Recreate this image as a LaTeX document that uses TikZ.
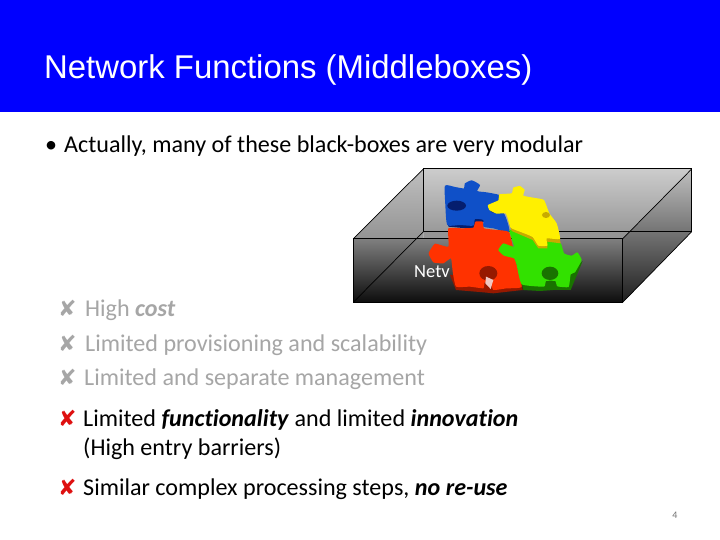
\documentclass[tikz,border=0pt]{standalone}
\usepackage{fontspec}
\setmainfont[Ligatures=NoCommon]{Carlito}
\newfontfamily\titlefont{Liberation Sans}
\newfontfamily\symfont{DejaVu Sans}
\definecolor{bandblue}{RGB}{0,0,255}
\definecolor{fade}{RGB}{166,166,166}
\definecolor{xred}{RGB}{222,16,16}
\definecolor{pblue}{RGB}{15,80,200}
\definecolor{pblued}{RGB}{5,30,110}
\definecolor{pred}{RGB}{255,50,0}
\definecolor{predd}{RGB}{150,25,0}
\definecolor{ppink}{RGB}{240,200,195}
\definecolor{pgreen}{RGB}{50,225,0}
\definecolor{pgreend}{RGB}{25,115,0}
\definecolor{pyellow}{RGB}{255,240,0}
\definecolor{pyellowd}{RGB}{200,170,0}
\tikzset{
 body/.style={anchor=base west,inner sep=0pt,font=\fontsize{24.1}{28}\selectfont},
 xmark/.style={anchor=base west,inner sep=0pt,font=\symfont\fontsize{22}{26}\selectfont},
 edge/.style={draw=black,line width=1pt},
 piece/.style={line join=round},
}
\begin{document}
\begin{tikzpicture}[x=1pt,y=-1pt]
\useasboundingbox (0,0) rectangle (720,540);
\fill[white] (0,0) rectangle (720,540);
\fill[bandblue] (0,0) rectangle (720,112);
\node[anchor=base west,inner sep=0pt,text=white,font=\titlefont\fontsize{32.9}{38}\selectfont] (title) at (44,79) {Network Functions (Middleboxes)};
\node[body] (bul) at (45,153) {•};
\node[body] (t0) at (64,153) {Actually, many of these black-boxes are very modular};
% box
\coordinate (bt1) at (423.3,169); \coordinate (bt2) at (691.7,169);
\coordinate (bb1) at (423.3,231.7); \coordinate (bb2) at (691.7,231.7);
\coordinate (ft1) at (353.3,238.7); \coordinate (ft2) at (622.7,238.7);
\coordinate (fb1) at (353.3,302.3); \coordinate (fb2) at (622.7,302.3);
\shade[top color=black!20,bottom color=black!40] (bt1) -- (bt2) -- (bb2) -- (bb1) -- cycle;
\shade[top color=black!25,bottom color=black!42] (bt1) -- (ft1) -- (423.3,238.7) -- cycle;
\fill[black!42] (bb1) -- (bb2) -- (ft2) -- (423.3,238.7) -- cycle;
\shade[top color=black!25,bottom color=black!88] (bt2) -- (bb2) -- (fb2) -- (ft2) -- cycle;
\shade[top color=black!50,bottom color=black!95] (ft1) rectangle (fb2);
\draw[black,line width=.7pt] (bb1) -- (fb1) (bb2) -- (fb2) (bt1) -- (ft1) (bt2) -- (ft2);
\draw[edge] (bt1) -- (bt2) -- (bb2) -- (bb1) -- cycle;
\draw[edge] (ft1) rectangle (fb2);
\node[anchor=base west,inner sep=0pt,text=white,font=\fontsize{18.5}{22}\selectfont] (netv) at (414,277.5) {Netv};
% puzzle, coordinates in 3x crop units
\begin{scope}[shift={(440,175)},x=0.3333pt,y=-0.3333pt]
 % blue
 \fill[pblued,piece] (15,40) -- (25,155) -- (100,162) -- (130,140) -- (205,178) -- (190,110) -- cycle;
 \fill[pblue,piece] plot[smooth cycle,tension=.35] coordinates {(15,32)(45,36)(72,40)(74,26)(95,16)(120,30)(112,48)(140,52)(178,60)(188,78)(150,90)(155,112)(192,116)(208,170)(160,160)(130,155)(130,135)(105,132)(100,152)(60,150)(22,150)(16,90)};
 \fill[pblued] (50,92) ellipse [x radius=28,y radius=15];
 % red
 \fill[predd,piece] (30,300) -- (48,345) -- (130,352) -- (160,355) -- (248,345) -- (240,300) -- cycle;
 \fill[pred,piece] plot[smooth cycle,tension=.25] coordinates {(25,160)(65,160)(100,158)(106,140)(128,140)(132,160)(170,165)(208,172)(225,250)(245,335)(200,340)(160,345)(152,322)(134,322)(130,340)(90,335)(48,335)(38,290)(33,250)(10,265)(-20,262)(-34,235)(-15,206)(25,215)};
 \fill[predd] (145,295) ellipse [x radius=27,y radius=22];
 \fill[ppink] (138,305) -- (160,315) -- (152,342) -- (136,325) -- cycle;
 % green
 \fill[pgreend,piece] (245,325) -- (250,345) -- (300,348) -- (340,345) -- (392,345) -- (428,258) -- (395,290) -- cycle;
 \fill[pgreen,piece] plot[smooth cycle,tension=.25] coordinates {(208,165)(260,178)(295,190)(298,215)(320,215)(318,197)(362,205)(372,235)(395,242)(412,232)(425,255)(405,292)(392,298)(386,336)(352,334)(346,318)(318,318)(312,335)(245,328)(230,270)(222,250)(192,242)(175,225)(190,205)(222,215)};
 \fill[pgreend] (330,295) ellipse [x radius=25,y radius=20];
 % yellow
 \fill[pyellowd,piece] (205,135) -- (215,168) -- (278,195) -- (295,220) -- (322,220) -- (322,200) -- (362,205) -- (350,150) -- cycle;
 \fill[pyellow,piece] plot[smooth cycle,tension=.25] coordinates {(178,58)(215,55)(220,38)(240,33)(254,45)(250,62)(280,68)(312,75)(328,115)(350,145)(360,192)(320,190)(322,212)(295,212)(278,186)(245,172)(212,158)(198,116)(170,116)(148,105)(144,90)(175,76)};
 \fill[pyellowd] (318,120) ellipse [x radius=12,y radius=9];
\end{scope}
% lists
\node[xmark,text=fade] (x1) at (58,316) {✘};
\node[body,text=fade] (a1) at (85,316) {High \textbf{\textit{cost}}};
\node[xmark,text=fade] (x2) at (58,351) {✘};
\node[body,text=fade] (a2) at (85,351) {Limited provisioning and scalability};
\node[xmark,text=fade] (x3) at (58,385) {✘};
\node[body,text=fade] (a3) at (84,385) {Limited and separate management};
\node[xmark,text=xred] (x4) at (58,426) {✘};
\node[body] (a4) at (83,426) {Limited \textbf{\textit{functionality}} and limited \textbf{\textit{innovation}}};
\node[body] (a5) at (83,455) {(High entry barriers)};
\node[xmark,text=xred] (x5) at (58,495) {✘};
\node[body] (a6) at (83,495) {Similar complex processing steps, \textbf{\textit{no re-use}}};
\node[anchor=base,inner sep=0pt,text=black!55,font=\fontsize{10}{12}\selectfont] (pg) at (675,518) {4};
\end{tikzpicture}
\end{document}
